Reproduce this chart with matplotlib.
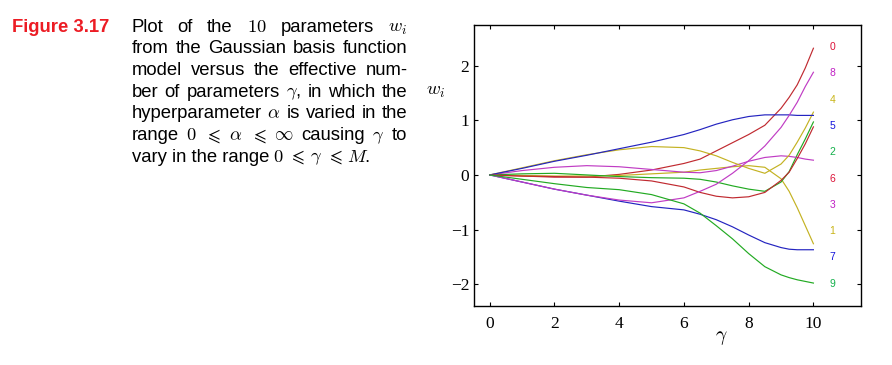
import numpy as np
import matplotlib
matplotlib.use("Agg")
import matplotlib.pyplot as plt

# ---------------------------------------------------------------
# data (effective number of parameters gamma)
# ---------------------------------------------------------------
gamma = [0, 1, 2, 3, 4, 5, 6, 6.5, 7, 7.5, 8, 8.5, 9, 9.25, 9.5, 9.75, 10]

w0 = [0, -0.02, -0.04, -0.04, 0.01, 0.09, 0.21, 0.29, 0.44, 0.59, 0.74, 0.91, 1.22, 1.42, 1.65, 1.96, 2.32]
w1 = [0, -0.01, -0.02, -0.02, -0.01, 0.02, 0.05, 0.09, 0.12, 0.15, 0.17, 0.14, -0.07, -0.30, -0.60, -0.93, -1.26]
w2 = [0, 0.02, 0.03, 0.00, -0.03, -0.05, -0.06, -0.08, -0.13, -0.20, -0.26, -0.30, -0.13, 0.06, 0.37, 0.66, 0.97]
w3 = [0, 0.08, 0.14, 0.17, 0.15, 0.10, 0.05, 0.04, 0.08, 0.16, 0.25, 0.32, 0.35, 0.34, 0.32, 0.29, 0.27]
w4 = [0, 0.13, 0.26, 0.37, 0.46, 0.52, 0.50, 0.44, 0.35, 0.23, 0.12, 0.03, 0.20, 0.36, 0.60, 0.86, 1.15]
w5 = [0, 0.12, 0.25, 0.36, 0.48, 0.60, 0.74, 0.83, 0.93, 1.01, 1.07, 1.10, 1.10, 1.10, 1.09, 1.09, 1.09]
w6 = [0, -0.02, -0.03, -0.04, -0.06, -0.11, -0.22, -0.32, -0.39, -0.42, -0.40, -0.32, -0.10, 0.05, 0.30, 0.57, 0.88]
w7 = [0, -0.13, -0.26, -0.37, -0.48, -0.58, -0.64, -0.72, -0.82, -0.95, -1.10, -1.24, -1.33, -1.36, -1.37, -1.37, -1.37]
w8 = [0, -0.13, -0.26, -0.37, -0.46, -0.51, -0.42, -0.30, -0.17, 0.03, 0.26, 0.53, 0.87, 1.09, 1.33, 1.62, 1.88]
w9 = [0, -0.08, -0.16, -0.23, -0.27, -0.36, -0.53, -0.70, -0.93, -1.17, -1.44, -1.68, -1.83, -1.88, -1.92, -1.95, -1.98]

weights = [w0, w1, w2, w3, w4, w5, w6, w7, w8, w9]

# order of the index labels down the right-hand side
label_order = ['0', '8', '4', '5', '2', '6', '3', '1', '7', '9']

xticks = [0, 2, 4, 6, 8, 10]
yticks = [-2, -1, 0, 1, 2]

# colours
RED, YEL, GRN, MAG, BLU = '#c02a30', '#c4b222', '#22aa22', '#c03cc4', '#2424c0'
line_colors = [RED, YEL, GRN, MAG, YEL, BLU, RED, BLU, MAG, GRN]
lab_colors = {'0': '#dc1238', '8': '#c020c4', '4': '#c8b416', '5': '#1616dc',
              '2': '#12b04a', '6': '#dc1238', '3': '#c020c4', '1': '#c8b416',
              '7': '#1616dc', '9': '#12b04a'}

W, H = 892, 365
plt.rcParams['font.family'] = 'Liberation Serif'
plt.rcParams['axes.unicode_minus'] = True

fig = plt.figure(figsize=(W / 100, H / 100), dpi=100)

# ---------------- plot ----------------
ax = fig.add_axes([474.3 / W, 1 - 306 / H, (861 - 474.3) / W, (306 - 25.3) / H])
for w, c in zip(weights, line_colors):
    ax.plot(gamma, w, color=c, lw=0.85)

ax.set_xlim(-0.475, 11.47)
ax.set_ylim(-2.40, 2.74)
ax.set_xticks(xticks)
ax.set_yticks(yticks)
ax.tick_params(direction='in', length=3, width=0.8, top=True, right=True,
               labelsize=12.5)
ax.tick_params(axis='x', pad=7)
ax.tick_params(axis='y', pad=3.5)
for s in ax.spines.values():
    s.set_linewidth(1.0)

for lab, yy in zip(label_order, np.linspace(2.34, -1.99, len(label_order))):
    ax.text(10.58, yy, lab, color=lab_colors[lab], fontsize=7.5,
            family='Liberation Sans', ha='center', va='center')

ax.text(0.64, -0.115, r'$\gamma$', transform=ax.transAxes, fontsize=14,
        math_fontfamily='cm', ha='center', va='center')
ax.text(-0.10, 0.765, r'$w_i$', transform=ax.transAxes, fontsize=13.5,
        math_fontfamily='cm', ha='center', va='center')

# ---------------- caption ----------------
CAP = 13.3
fig.text(12 / W, 1 - 31.7 / H, 'Figure 3.17', color='#ec1c24', fontsize=CAP,
         fontweight='bold', family='Liberation Sans', va='baseline')

cap_lines = [
    ['Plot', 'of', 'the', r'$10$', 'parameters', r'$w_i$'],
    ['from', 'the', 'Gaussian', 'basis', 'function'],
    ['model', 'versus', 'the', 'effective', 'num-'],
    ['ber', 'of', 'parameters', r'$\gamma$,', 'in', 'which', 'the'],
    ['hyperparameter', r'$\alpha$', 'is', 'varied', 'in', 'the'],
    ['range', r'$0$', r'$\leqslant$', r'$\alpha$', r'$\leqslant$', r'$\infty$',
     'causing', r'$\gamma$', 'to'],
]
last_line = ['vary in the range', r'$0$', r'$\leqslant$', r'$\gamma$',
             r'$\leqslant$', r'$M$.']

left, right = 131.5, 407.5
base0, step = 31.7, 21.67
renderer = fig.canvas.get_renderer()


def place(toks, row, justify=True):
    yb = 1 - (base0 + row * step) / H
    texts = [fig.text(0, yb, t, fontsize=CAP, family='Liberation Sans',
                      math_fontfamily='cm', va='baseline') for t in toks]
    widths = [t.get_window_extent(renderer).width for t in texts]
    if justify:
        gap = (right - left - sum(widths)) / (len(texts) - 1)
    else:
        gap = 4.5
    x = left
    for t, wd in zip(texts, widths):
        t.set_x(x / W)
        x += wd + gap


for i, toks in enumerate(cap_lines):
    place(toks, i)
place(last_line, 6, justify=False)

fig.savefig('out.png', dpi=100)
